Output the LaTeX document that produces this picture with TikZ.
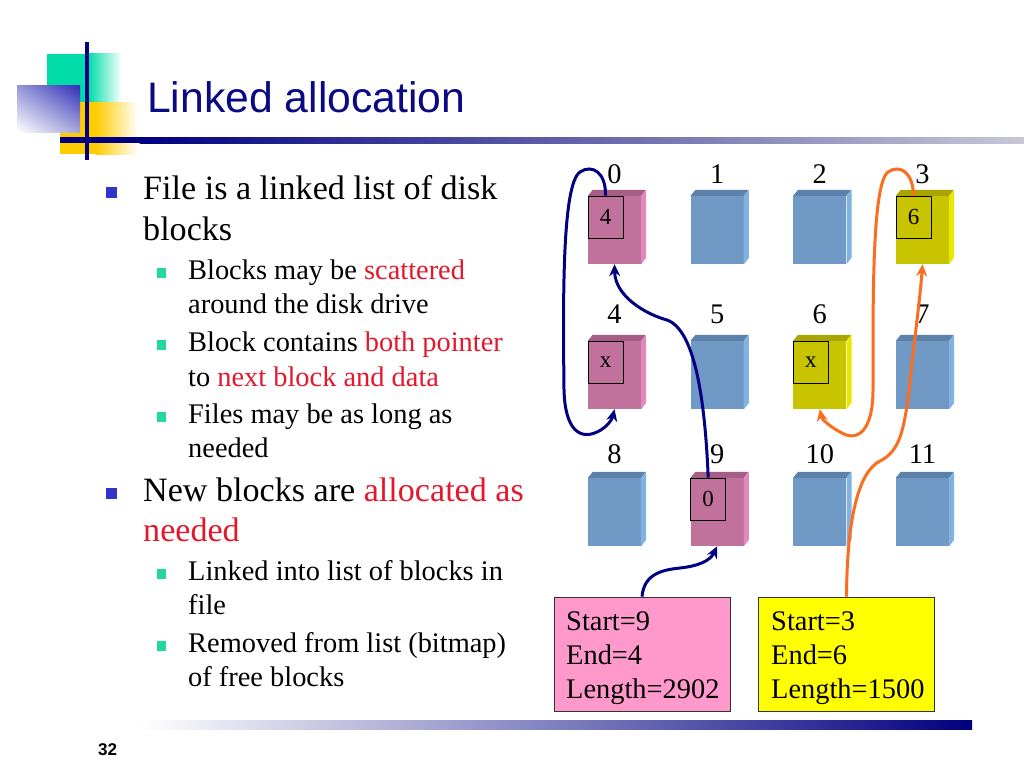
\documentclass[tikz,border=0pt]{standalone}
\usepackage{fontspec}
\setmainfont{Liberation Serif}
\newfontfamily\titlefont{Liberation Sans}
\usetikzlibrary{arrows.meta,shapes.geometric,shadings}
\definecolor{navy}{RGB}{0,0,128}
\definecolor{titlenavy}{RGB}{10,10,130}
\definecolor{rulegray}{RGB}{200,200,214}
\definecolor{logogreen}{RGB}{0,221,170}
\definecolor{logoyellow}{RGB}{255,204,0}
\definecolor{logoblue}{RGB}{46,46,184}
\definecolor{logoUL}{RGB}{150,150,215}
\definecolor{logoLR}{RGB}{165,165,220}
\definecolor{bulblue}{RGB}{51,51,204}
\definecolor{bulgreen}{RGB}{32,216,160}
\definecolor{hired}{RGB}{228,24,44}
\definecolor{pinkF}{RGB}{192,114,157}
\definecolor{pinkT}{RGB}{166,94,134}
\definecolor{pinkS}{RGB}{226,136,190}
\definecolor{blueF}{RGB}{112,154,197}
\definecolor{blueT}{RGB}{92,130,172}
\definecolor{blueS}{RGB}{128,178,226}
\definecolor{yelF}{RGB}{200,196,0}
\definecolor{yelT}{RGB}{168,164,0}
\definecolor{yelS}{RGB}{232,232,0}
\definecolor{boxpink}{RGB}{255,153,204}
\definecolor{boxyel}{RGB}{255,255,0}
\definecolor{orng}{RGB}{250,110,30}
\tikzset{
  blkfront/.style={rectangle, draw=none, inner sep=0pt, minimum width=53pt, minimum height=68pt},
  ptrbox/.style={rectangle, draw=black, line width=0.8pt, inner sep=0pt, minimum width=35pt, minimum height=42pt, font=\fontsize{23}{27}\selectfont},
  numlbl/.style={anchor=base, inner sep=0pt, font=\fontsize{28.4}{34}\selectfont},
  infobox/.style={rectangle, draw=black!80, line width=0.8pt, inner sep=0pt, minimum width=176pt, minimum height=114pt},
  infotext/.style={anchor=base west, inner sep=0pt, font=\fontsize{28.4}{34}\selectfont},
  mainline/.style={anchor=base west, inner sep=0pt, font=\fontsize{34.1}{41}\selectfont},
  subline/.style={anchor=base west, inner sep=0pt, font=\fontsize{28.4}{34}\selectfont},
  mainbul/.style={rectangle, fill=bulblue, inner sep=0pt, minimum size=11pt},
  subbul/.style={rectangle, fill=bulgreen, inner sep=0pt, minimum size=9.5pt},
  bluelink/.style={draw=navy, line width=3pt, -{Stealth[length=12pt,width=11pt]}},
  orangelink/.style={draw=orng, line width=3pt, -{Stealth[length=12pt,width=11pt]}},
}
\begin{document}
\begin{tikzpicture}[x=1pt,y=-1pt]
\useasboundingbox (0,0) rectangle (1024,768);
\fill[white] (0,0) rectangle (1024,768);
% ---- logo ----
\fill[logogreen] (47,54) rectangle (89,102);
\shade[left color=logogreen, right color=white] (88.5,54) rectangle (122,102);
\fill[logoyellow] (60,102) rectangle (96,154);
\shade[left color=logoyellow, right color=white] (95.5,102) rectangle (138,154);
\shade[upper right=logoblue, lower left=white, upper left=logoUL, lower right=logoLR] (17,85) rectangle (80,132);
\fill[navy] (60,137) rectangle (140,143);
\shade[left color=navy, right color=rulegray] (139.5,137) rectangle (1024,143);
\fill[navy] (85,42) rectangle (89,160);
% ---- title ----
\node[anchor=base west, inner sep=0pt, text=titlenavy, font=\titlefont\fontsize{42.7}{50}\selectfont] (title) at (147,112) {Linked allocation};
% ---- bullets ----
\node[mainbul] (mb1) at (111.5,192.5) {};
\node[mainline] (t1a) at (143,199) {File is a linked list of disk};
\node[mainline] (t1b) at (143,240) {blocks};
\node[subbul] (sb1) at (161.5,273) {};
\node[subline] (s1a) at (188,279) {Blocks may be \textcolor{hired}{scattered}};
\node[subline] (s1b) at (188,313) {around the disk drive};
\node[subbul] (sb2) at (161.5,345) {};
\node[subline] (s2a) at (188,351) {Block contains \textcolor{hired}{both pointer}};
\node[subline] (s2b) at (188,386) {to \textcolor{hired}{next block and data}};
\node[subbul] (sb3) at (161.5,417) {};
\node[subline] (s3a) at (188,423) {Files may be as long as};
\node[subline] (s3b) at (188,457) {needed};
\node[mainbul] (mb2) at (111.5,493.5) {};
\node[mainline] (t2a) at (143,501) {New blocks are \textcolor{hired}{allocated as}};
\node[mainline] (t2b) at (143,541) {\textcolor{hired}{needed}};
\node[subbul] (sb4) at (161.5,574) {};
\node[subline] (s4a) at (188,580) {Linked into list of blocks in};
\node[subline] (s4b) at (188,614) {file};
\node[subbul] (sb5) at (161.5,646) {};
\node[subline] (s5a) at (188,652) {Removed from list (bitmap)};
\node[subline] (s5b) at (188,686) {of free blocks};
% ---- bottom rule and page number ----
\shade[left color=white, right color=navy] (140,720) rectangle (972,729);
\node[anchor=base west, inner sep=0pt, font=\titlefont\bfseries\fontsize{17}{20}\selectfont] (pnum) at (98,755) {32};
% ---- disk blocks ----
\foreach \i/\cx/\ft/\lb/\c in {
  0/614.5/196/183/pink, 1/717.2/196/183/blue, 2/819.8/196/183/blue, 3/922.5/196/183/yel,
  4/614.5/341/323/pink, 5/717.2/341/323/blue, 6/819.8/341/323/yel, 7/922.5/341/323/blue,
  8/614.5/478/463/blue, 9/717.2/478/463/pink, 10/819.8/478/463/blue, 11/922.5/478/463/blue}{
  \node[blkfront, fill=\c F] (b\i) at (\cx,\ft+34) {};
  \fill[\c T] (b\i.north west) -- ++(5,-6) -- ++(53,0) -- (b\i.north east) -- cycle;
  \fill[\c S] (b\i.north east) -- ++(5,-6) -- ++(0,68) -- (b\i.south east) -- cycle;
  \node[numlbl] (n\i) at (\cx,\lb) {\i};
}
% ---- pointer boxes ----
\node[ptrbox] (p0) at (605.5,217) {4};
\node[ptrbox] (p4) at (605.5,362) {x};
\node[ptrbox] (p9) at (708.2,499) {0};
\node[ptrbox] (p3) at (913.5,217) {6};
\node[ptrbox] (p6) at (810.8,362) {x};
% ---- directory entries ----
\node[infobox, fill=boxpink] (fa) at (642,654) {};
\node[infotext] (fa1) at (566,630) {Start=9};
\node[infotext] (fa2) at (566,664) {End=4};
\node[infotext] (fa3) at (566,698) {Length=2902};
\node[infobox, fill=boxyel] (fb) at (846.5,654) {};
\node[infotext] (fb1) at (771,630) {Start=3};
\node[infotext] (fb2) at (771,664) {End=6};
\node[infotext] (fb3) at (771,698) {Length=1500};
% ---- links of file A (blue) ----
\draw[bluelink] (fa.north) .. controls (644,575) and (660,570) .. (680,568)
  .. controls (698,566) and (710,561) .. (b9.south);
\draw[bluelink] (p9.north) .. controls (705,400) and (695,330) .. (667,320)
  .. controls (645,314) and (615,296) .. (b0.south);
\draw[bluelink] (p0.north) .. controls (606,172) and (592,164) .. (580,172)
  .. controls (562,184) and (563,300) .. (564,390)
  .. controls (565,430) and (580,440) .. (597,432)
  .. controls (606,428) and (612,420) .. (b4.south);
% ---- links of file B (orange) ----
\draw[orangelink] (fb.north) .. controls (847,520) and (858,472) .. (880,461)
  .. controls (900,451) and (903,430) .. (908,400)
  .. controls (913,350) and (920,300) .. (b3.south);
\draw[orangelink] (p3.north) .. controls (913,172) and (900,164) .. (888,172)
  .. controls (872,184) and (873,300) .. (873,390)
  .. controls (873,430) and (858,442) .. (842,433)
  .. controls (832,428) and (822,420) .. (b6.south);
\end{tikzpicture}
\end{document}
